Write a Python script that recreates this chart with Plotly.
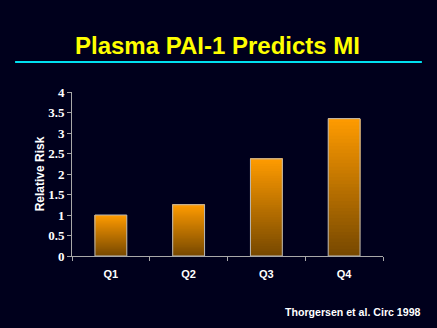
import plotly.graph_objects as go

# Relative risk of MI by plasma PAI-1 quartile
quartiles = ["Q1", "Q2", "Q3", "Q4"]
relative_risk = [1.0, 1.25, 2.37, 3.35]
y_ticks = [0, 0.5, 1, 1.5, 2, 2.5, 3, 3.5, 4]

BG = "#00001c"
TOP = (255, 155, 0)
BOTTOM = (118, 72, 0)
N_SLICES = 40

fig = go.Figure()

# Each bar is built from stacked slices (each reaching to the bar top, drawn bottom-up
# so no seams show) fading from orange at the top to brown at the base
for i in range(N_SLICES):
    f = (i + 0.5) / N_SLICES
    r, g, b = (round(BOTTOM[k] + (TOP[k] - BOTTOM[k]) * f) for k in range(3))
    fig.add_trace(go.Bar(
        x=quartiles,
        y=[v * (N_SLICES - i) / N_SLICES for v in relative_risk],
        base=[v * i / N_SLICES for v in relative_risk],
        width=0.41,
        marker=dict(color=f"rgb({r},{g},{b})", line=dict(width=0)),
        hoverinfo="skip",
        showlegend=False,
    ))

# Thin grey outline around each full bar
fig.add_trace(go.Bar(
    x=quartiles,
    y=relative_risk,
    width=0.41,
    marker=dict(color="rgba(0,0,0,0)", line=dict(color="#b8b8b8", width=1)),
    showlegend=False,
))

fig.update_layout(
    width=437,
    height=328,
    paper_bgcolor=BG,
    plot_bgcolor=BG,
    barmode="overlay",
    margin=dict(l=72, r=54, t=92, b=72),
    xaxis=dict(
        type="category",
        showgrid=False,
        showline=True,
        linecolor="#a8a8a8",
        linewidth=1,
        ticks="outside",
        tickson="boundaries",
        ticklen=4,
        tickcolor="#a8a8a8",
        ticklabelstandoff=8,
        tickfont=dict(family="Liberation Sans", size=11, color="#ffffff", weight="bold"),
        range=[-0.5, 3.5],
    ),
    yaxis=dict(
        range=[0, 4],
        tickvals=y_ticks,
        ticktext=[f"{t:g}" for t in y_ticks],
        showgrid=False,
        zeroline=False,
        showline=True,
        linecolor="#a8a8a8",
        linewidth=1,
        ticks="outside",
        ticklen=4,
        tickcolor="#a8a8a8",
        tickfont=dict(family="Liberation Serif", size=13, color="#ffffff", weight="bold"),
        title=dict(text="Relative Risk", standoff=0,
                   font=dict(family="Liberation Sans", size=12, color="#ffffff", weight="bold")),
    ),
    shapes=[dict(
        type="line", xref="paper", yref="paper",
        x0=-0.183, x1=1.125, y0=1.183, y1=1.183,
        line=dict(color="#00e0f0", width=2),
    )],
    annotations=[
        dict(
            text="Plasma PAI-1 Predicts MI",
            xref="paper", yref="paper", x=0.467, y=1.0,
            yshift=47, xanchor="center", yanchor="middle",
            showarrow=False,
            font=dict(family="Liberation Sans", size=24, color="#ffff00", weight="bold"),
        ),
        dict(
            text="Thorgersen et al. Circ 1998",
            xref="paper", yref="paper", x=1.129, y=0, yshift=-56,
            xanchor="right", yanchor="middle",
            showarrow=False,
            font=dict(family="Liberation Sans", size=10.6, color="#ffffff", weight="bold"),
        ),
    ],
)

fig.write_html("out.html")
